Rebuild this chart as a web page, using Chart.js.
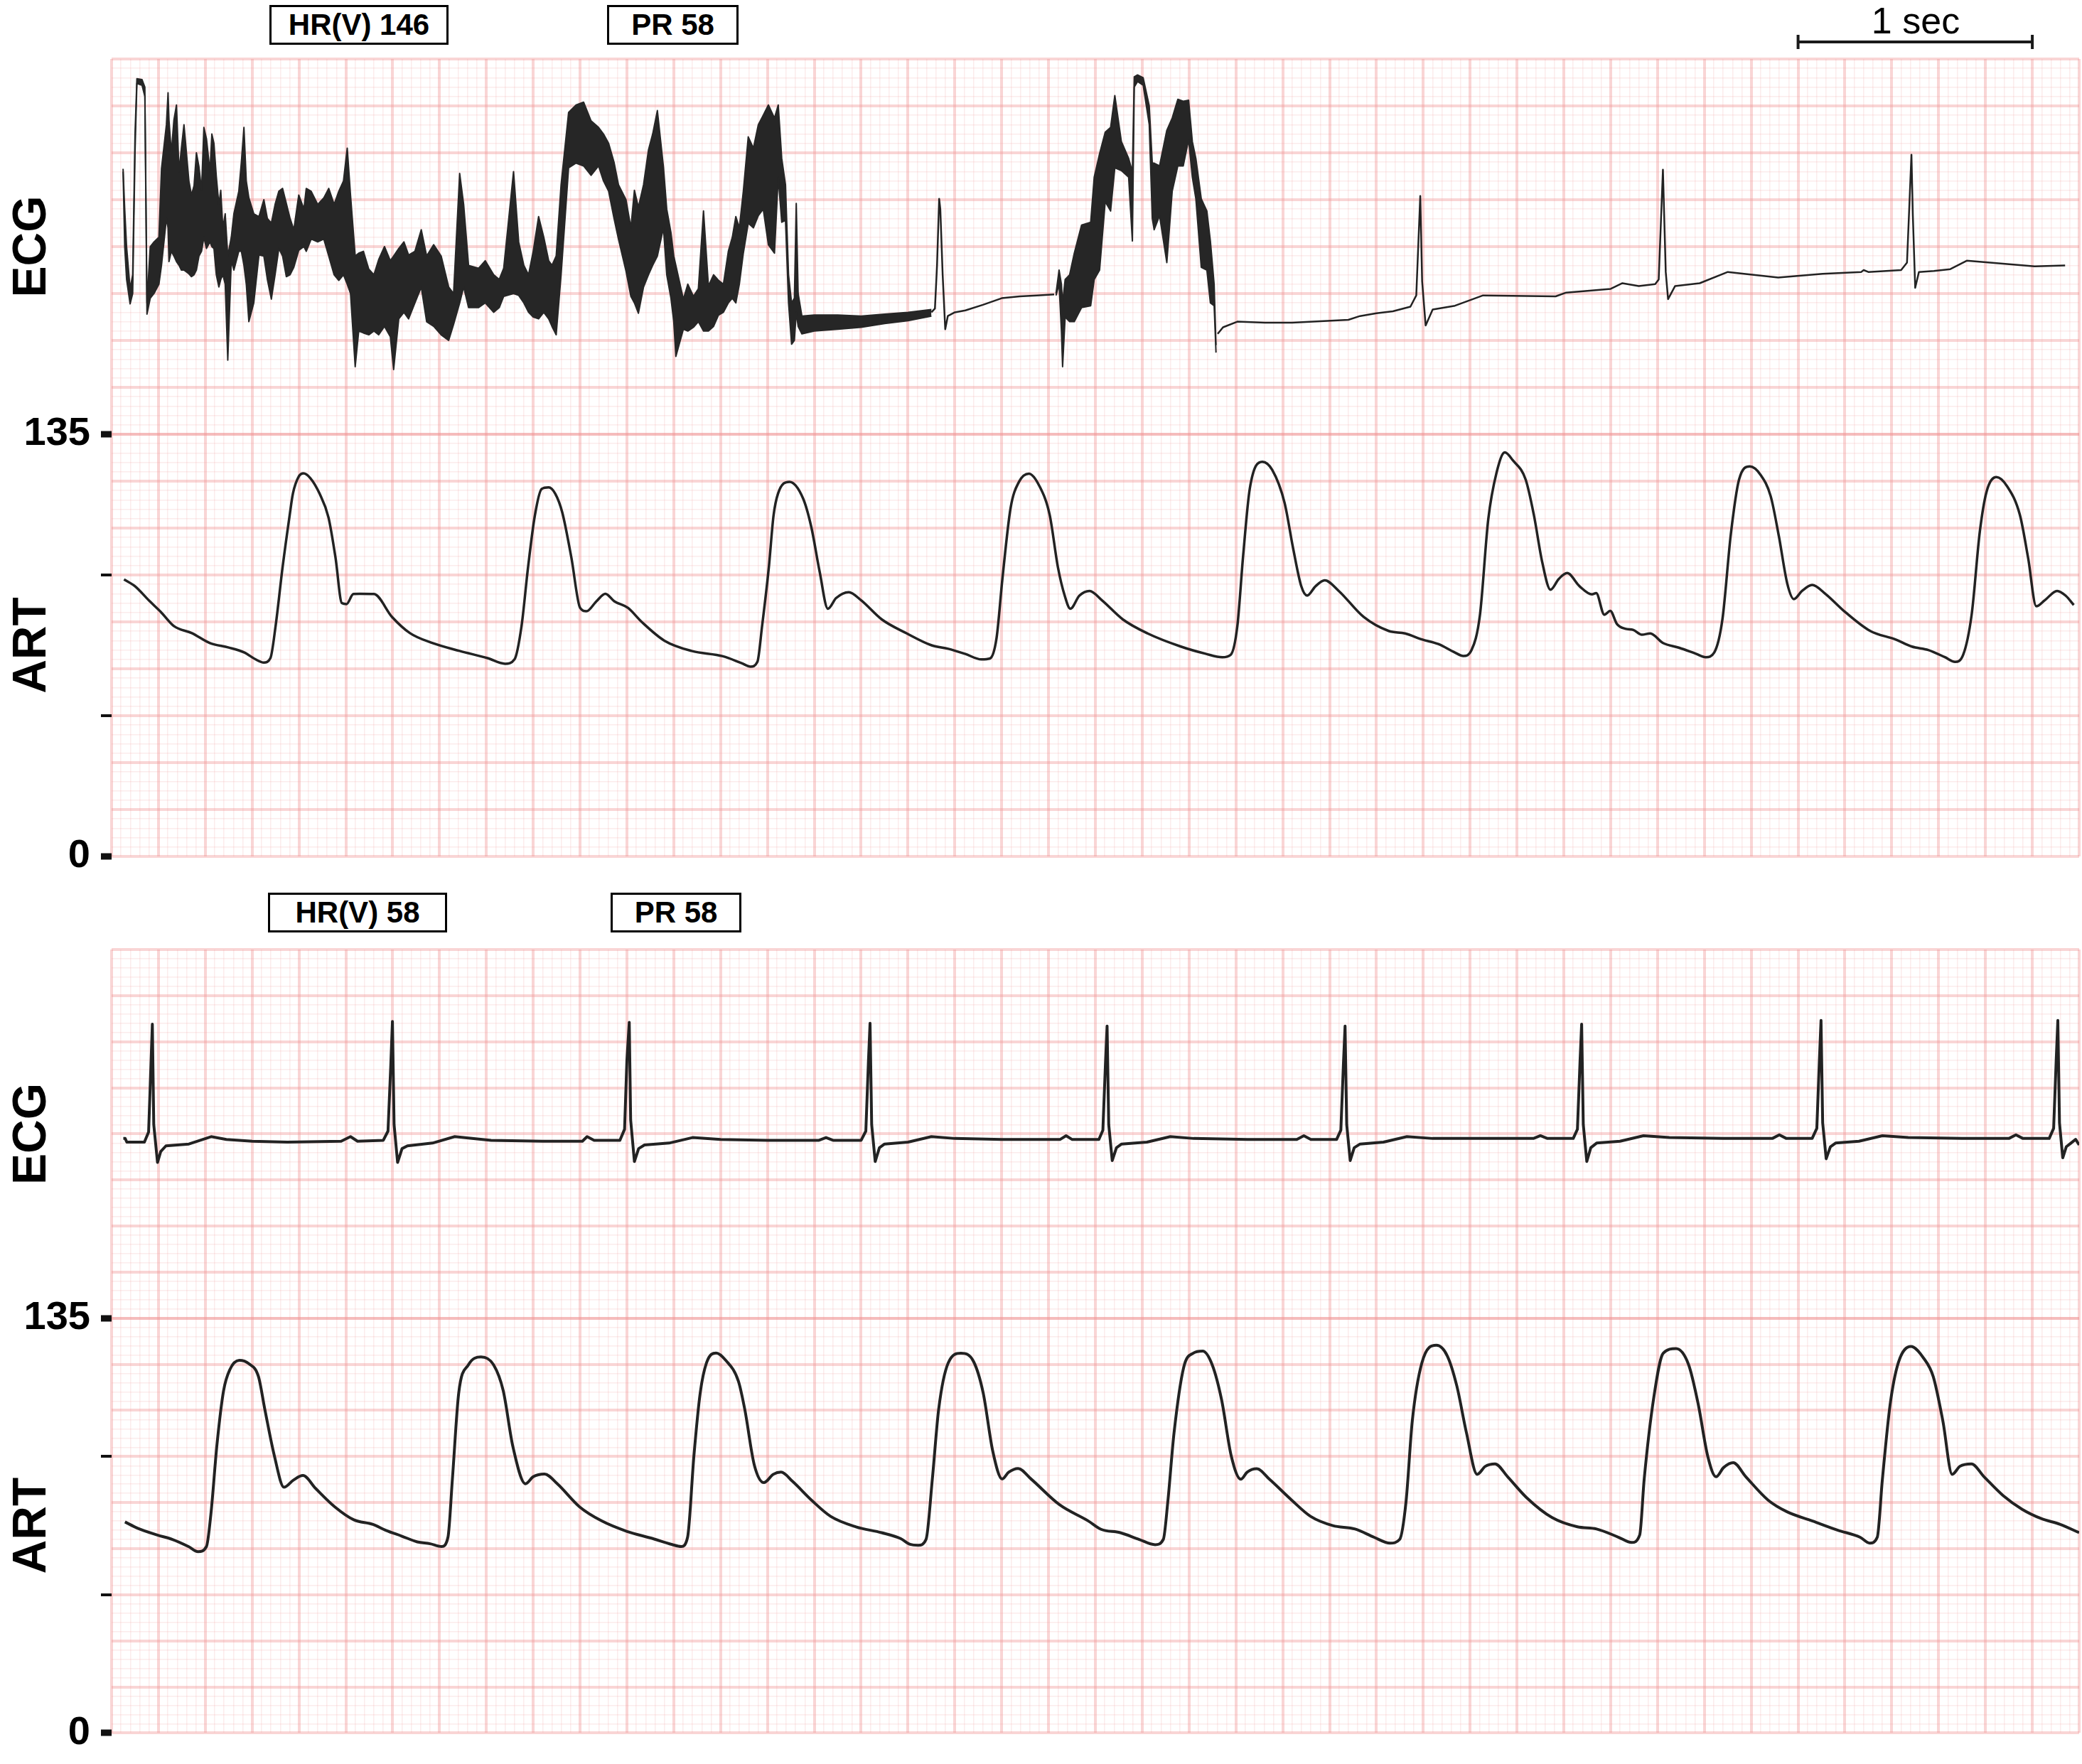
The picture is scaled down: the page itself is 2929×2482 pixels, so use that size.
<!DOCTYPE html>
<html>
<head>
<meta charset="utf-8">
<title>ECG / ART</title>
<script src="https://cdn.jsdelivr.net/npm/chart.js@4.4.1/dist/chart.umd.min.js"></script>
<style>
  html, body { margin: 0; padding: 0; background: #fff; overflow: hidden; }
  #pagina { position: relative; width: 2929px; height: 2482px; }
  canvas { position: absolute; left: 0; }
  .caixa {
    position: absolute; box-sizing: border-box; border: 3px solid #000; background: #fff;
    display: flex; align-items: center; justify-content: center;
    font-family: 'Liberation Sans', Arial, Helvetica, sans-serif;
    font-weight: bold; font-size: 42px; line-height: 1; color: #000;
  }
  #escala {
    position: absolute; left: 2595px; top: 3px; width: 200px; text-align: center;
    font-family: 'Liberation Sans', Arial, sans-serif; font-size: 52px; line-height: 1; color: #000;
  }
</style>
</head>
<body>
<div id="pagina">
  <canvas id="painel1" width="2929" height="1250" style="top:0"></canvas>
  <canvas id="painel2" width="2929" height="1232" style="top:1250px"></canvas>
  <div class="caixa" style="left:379px;top:7px;width:252px;height:56px">HR(V) 146</div>
  <div class="caixa" style="left:854px;top:7px;width:185px;height:56px">PR 58</div>
  <div class="caixa" style="left:377px;top:1256px;width:252px;height:56px">HR(V) 58</div>
  <div class="caixa" style="left:859px;top:1256px;width:184px;height:56px">PR 58</div>
  <div id="escala">1 sec</div>
</div>
<script>
// === Dados: tempo em s, ECG em mV, ART em mmHg ===

// Painel 1 - ECG com artefato (faixa entre envelope superior e inferior)
const ruido1T = [0.049,0.056,0.064,0.079,0.090,0.100,0.108,0.130,0.142,0.151,
  0.165,0.181,0.202,0.213,0.234,0.241,0.245,0.255,0.266,0.277,
  0.288,0.298,0.309,0.330,0.341,0.352,0.362,0.373,0.384,0.394,
  0.405,0.420,0.428,0.437,0.447,0.458,0.466,0.475,0.485,0.496,
  0.511,0.522,0.543,0.554,0.565,0.575,0.586,0.607,0.629,0.650,
  0.665,0.682,0.698,0.714,0.730,0.746,0.762,0.778,0.799,0.821,
  0.831,0.852,0.880,0.906,0.927,0.950,0.970,0.990,1.006,1.020,
  1.040,1.055,1.075,1.098,1.120,1.140,1.165,1.190,1.204,1.226,
  1.248,1.268,1.295,1.322,1.345,1.375,1.407,1.439,1.460,1.486,
  1.503,1.524,1.567,1.595,1.631,1.655,1.674,1.716,1.738,1.760,
  1.780,1.800,1.823,1.845,1.866,1.880,1.898,1.919,1.951,1.983,
  2.015,2.047,2.079,2.100,2.122,2.145,2.164,2.196,2.217,2.232,
  2.249,2.271,2.292,2.310,2.330,2.356,2.370,2.388,2.400,2.409,
  2.441,2.460,2.484,2.505,2.527,2.548,2.570,2.591,2.612,2.633,
  2.650,2.665,2.680,2.697,2.718,2.740,2.761,2.782,2.804,2.830,
  2.846,2.861,2.877,2.890,2.903,2.915,2.923,2.931,2.947,3.000,
  3.100,3.200,3.300,3.400,3.500];
const ruido1Alto = [0.83,0.40,0.00,-0.45,-0.30,1.20,1.79,1.78,1.70,-0.60,
  0.00,0.05,0.10,0.83,1.30,1.64,1.35,1.00,1.35,1.51,
  0.80,1.05,1.30,0.70,0.55,0.65,1.00,0.85,0.60,1.27,
  1.15,0.80,1.20,1.10,0.75,0.45,0.60,0.20,0.35,-0.10,
  0.10,0.35,0.59,0.90,1.27,0.70,0.52,0.35,0.32,0.50,
  0.30,0.25,0.45,0.59,0.62,0.46,0.30,0.18,0.55,0.40,
  0.62,0.59,0.45,0.52,0.62,0.45,0.59,0.70,1.05,0.55,
  -0.10,-0.07,-0.05,-0.24,-0.30,-0.14,0.00,-0.15,-0.10,-0.02,
  0.05,-0.09,-0.05,0.18,-0.10,0.02,-0.10,-0.43,-0.50,0.78,
  0.45,-0.20,-0.23,-0.15,-0.30,-0.35,-0.23,0.80,0.05,-0.20,
  -0.30,-0.05,0.32,0.10,-0.15,-0.20,-0.10,0.66,1.43,1.51,
  1.54,1.34,1.27,1.20,1.10,0.90,0.66,0.50,0.20,0.60,
  0.42,0.66,1.03,1.20,1.45,0.85,0.40,0.15,-0.10,-0.20,
  -0.56,-0.40,-0.53,-0.45,0.38,-0.42,-0.30,-0.36,-0.40,-0.05,
  0.10,0.32,0.20,0.59,1.17,1.05,1.30,1.40,1.51,1.37,
  1.51,0.94,0.66,-0.30,-0.60,-0.55,0.46,-0.50,-0.74,-0.73,
  -0.73,-0.74,-0.72,-0.70,-0.67];
const ruido1Baixo = [0.80,0.00,-0.35,-0.61,-0.50,1.00,1.74,1.72,1.60,-0.72,
  -0.55,-0.50,-0.40,-0.20,0.30,0.20,-0.16,-0.05,-0.10,-0.16,
  -0.20,-0.25,-0.25,-0.29,-0.32,-0.30,-0.25,-0.10,-0.05,0.10,
  -0.02,0.05,0.00,-0.02,-0.30,-0.43,-0.35,-0.30,-0.40,-1.21,
  -0.15,-0.25,-0.05,-0.05,-0.20,-0.40,-0.80,-0.60,-0.09,-0.10,
  -0.35,-0.56,-0.30,-0.02,-0.10,-0.32,-0.30,-0.22,-0.04,0.00,
  -0.05,0.08,0.05,0.08,-0.10,-0.30,-0.36,-0.30,-0.40,-0.50,
  -1.28,-0.90,-0.92,-0.94,-0.90,-0.94,-0.85,-0.96,-1.31,-0.77,
  -0.70,-0.77,-0.60,-0.43,-0.80,-0.85,-0.94,-1.00,-0.83,-0.60,
  -0.43,-0.65,-0.65,-0.60,-0.70,-0.65,-0.53,-0.50,-0.52,-0.60,
  -0.70,-0.75,-0.77,-0.70,-0.77,-0.85,-0.94,-0.30,0.84,0.89,
  0.86,0.76,0.86,0.70,0.59,0.30,0.08,-0.26,-0.53,-0.60,
  -0.71,-0.43,-0.30,-0.20,-0.10,0.20,-0.30,-0.55,-0.80,-1.17,
  -0.88,-0.90,-0.86,-0.80,-0.90,-0.90,-0.85,-0.73,-0.70,-0.60,
  -0.55,-0.60,-0.40,-0.07,0.25,0.20,0.33,0.40,0.02,-0.07,
  0.74,0.26,0.28,-0.60,-1.04,-1.00,-0.70,-0.85,-0.93,-0.90,
  -0.88,-0.86,-0.82,-0.79,-0.74];

const ruido2T = [4.032,4.045,4.055,4.060,4.071,4.090,4.110,4.141,4.180,4.195,
  4.218,4.242,4.265,4.283,4.311,4.342,4.358,4.366,4.380,4.404,
  4.430,4.443,4.451,4.474,4.505,4.528,4.552,4.575,4.598,4.614,
  4.629,4.652,4.676,4.691,4.707,4.715];
const ruido2Alto = [-0.50,-0.25,-0.40,-0.60,-0.35,-0.30,-0.07,0.23,0.26,0.74,
  0.99,1.22,1.27,1.61,1.12,0.94,0.80,1.81,1.83,1.80,
  1.50,0.89,0.89,0.86,1.24,1.37,1.57,1.55,1.56,1.12,
  0.94,0.51,0.38,0.06,-0.40,-1.05];
const ruido2Baixo = [-0.52,-0.40,-0.90,-1.28,-0.75,-0.80,-0.80,-0.65,-0.63,-0.35,
  -0.25,0.48,0.38,0.84,0.81,0.74,0.06,1.70,1.76,1.72,
  1.30,0.30,0.18,0.33,-0.17,0.59,0.86,0.86,1.14,0.74,
  0.51,-0.22,-0.25,-0.60,-0.63,-1.13];

// Painel 1 - ECG limpo (null = interrupção)
const ecg1T = [3.500,3.515,3.524,3.533,3.538,3.548,3.559,3.570,3.600,3.645,
  3.720,3.800,3.877,3.950,4.024,4.300,
  4.722,4.745,4.806,4.924,5.040,5.280,5.330,5.400,5.470,5.545,
  5.570,5.587,5.595,5.610,5.640,5.735,5.855,6.165,6.210,6.400,
  6.450,6.520,6.590,6.605,6.623,6.635,6.645,6.675,6.780,6.900,
  7.115,7.305,7.470,7.480,7.500,7.640,7.665,7.684,7.690,7.700,
  7.716,7.780,7.850,7.920,8.020,8.210,8.340];
const ecg1V = [-0.70,-0.66,-0.20,0.51,0.40,-0.30,-0.88,-0.74,-0.70,-0.68,
  -0.62,-0.55,-0.53,-0.52,-0.51,null,
  -0.93,-0.86,-0.80,-0.81,-0.81,-0.78,-0.74,-0.71,-0.69,-0.64,
  -0.52,0.54,-0.37,-0.84,-0.67,-0.63,-0.52,-0.53,-0.49,-0.45,
  -0.39,-0.42,-0.40,-0.35,0.82,-0.27,-0.56,-0.42,-0.39,-0.27,
  -0.33,-0.29,-0.27,-0.25,-0.27,-0.25,-0.17,0.98,0.33,-0.44,
  -0.27,-0.26,-0.24,-0.15,-0.17,-0.21,-0.20];

// Painel 1 - ART
const art1T = [0.053,0.10,0.16,0.21,0.267,0.343,0.42,0.50,0.567,0.615,
  0.65,0.678,0.70,0.73,0.76,0.774,0.80,0.819,0.848,0.888,
  0.926,0.956,0.983,1.003,1.032,1.06,1.12,1.197,1.274,1.371,
  1.486,1.605,1.68,1.72,1.75,1.778,1.807,1.836,1.866,1.894,
  1.924,1.963,2.0,2.027,2.07,2.108,2.146,2.204,2.263,2.36,
  2.476,2.61,2.69,2.728,2.757,2.777,2.806,2.826,2.845,2.894,
  2.952,2.987,3.023,3.058,3.093,3.147,3.20,3.288,3.395,3.501,
  3.572,3.643,3.714,3.75,3.778,3.803,3.838,3.874,3.916,3.962,
  4.005,4.04,4.069,4.093,4.132,4.175,4.228,4.317,4.423,4.565,
  4.671,4.742,4.778,4.806,4.831,4.859,4.913,4.955,5.008,5.044,
  5.079,5.104,5.14,5.179,5.239,5.345,5.452,5.522,5.594,5.664,
  5.735,5.771,5.806,5.842,5.877,5.913,5.948,5.983,6.037,6.072,
  6.108,6.143,6.178,6.214,6.267,6.32,6.338,6.373,6.398,6.427,
  6.462,6.497,6.533,6.569,6.622,6.693,6.764,6.806,6.842,6.877,
  6.913,6.948,6.994,7.04,7.083,7.118,7.154,7.182,7.217,7.26,
  7.313,7.402,7.508,7.615,7.686,7.756,7.827,7.87,7.905,7.941,
  7.976,8.005,8.047,8.093,8.147,8.182,8.217,8.253,8.306,8.342,
  8.377];
const art1P = [88.6,86.4,81.8,78.2,73.6,71.4,68.2,66.8,65.2,63.0,
  62.0,63.4,73.6,92.5,109,116,121.6,122.5,121,116,
  108.4,95.5,81,80.7,83.9,84.0,83.9,76.6,71.4,68.2,
  65.7,63.4,61.6,63.0,73.6,92.5,109,117.5,118,116,
  110,95.5,79.5,78.4,81.6,84.0,81.6,79.5,75.0,69.0,
  65.7,64.0,61.8,60.7,62.2,73.6,92.5,109,116,119.8,
  114.5,105.4,91,79.2,82.6,84.5,81.9,75.8,71.3,67.5,
  66.4,64.8,63.0,63.3,69.8,88.7,111.4,119.8,122.4,118.3,
  109.2,92.5,83.4,79.2,83.4,84.9,81.9,75.8,71.3,67.1,
  64.8,63.7,64.5,73.6,96.3,117.5,126.2,123.6,113,98.6,
  86.4,83.4,86.4,88.3,84.9,76.6,72.1,71.3,69.4,67.9,
  65.2,64.1,66,77.3,107.6,122.8,129.2,126.6,120.5,109.2,
  94,85.3,88.7,90.6,86.4,83.8,84.2,77.3,78.5,74.3,
  72.8,72.4,70.9,71.3,68.3,66.7,64.8,63.7,65.2,75.8,
  103.1,120.5,124.7,122,115.2,102.4,87.2,82.3,84.9,86.8,
  84.2,78.1,72.1,69.4,67.1,66,63.7,62.2,64.5,77.3,
  103.9,116.7,121.3,118.3,109.2,95.5,80,81.9,84.9,83.4,
  80.4];

// Painel 2 - ECG
const ecg2T = [0.050,0.058,0.065,0.140,
  0.158,0.168,0.174,0.180,0.196,0.210,0.232,0.330,0.425,0.490,0.600,0.750,0.980,1.020,1.050,1.160,
  1.180,1.192,1.199,1.206,1.221,1.240,1.263,1.370,1.465,1.620,1.840,2.010,2.030,2.060,2.170,
  2.190,2.200,2.210,2.216,2.232,2.250,2.275,2.380,2.480,2.600,2.800,3.020,3.050,3.080,3.200,
  3.220,3.231,3.238,3.245,3.260,3.278,3.300,3.400,3.500,3.600,3.800,4.050,4.075,4.100,4.215,
  4.232,4.243,4.250,4.257,4.272,4.290,4.312,4.420,4.520,4.620,4.850,5.060,5.090,5.120,5.230,
  5.248,5.259,5.266,5.273,5.288,5.305,5.330,5.430,5.530,5.640,5.860,6.070,6.100,6.130,6.240,
  6.258,6.269,6.276,6.283,6.298,6.315,6.340,6.440,6.540,6.650,6.880,7.090,7.120,7.150,7.260,
  7.280,7.291,7.298,7.305,7.320,7.338,7.360,7.460,7.560,7.670,7.900,8.100,8.130,8.160,8.272,
  8.291,8.302,8.309,8.316,8.330,8.345,8.365,8.385,8.400,8.410];
const ecg2V = [-0.05,-0.05,-0.09,-0.09,
  0.02,0.75,1.19,0.10,-0.31,-0.19,-0.13,-0.11,-0.03,-0.06,-0.08,-0.09,-0.08,-0.03,-0.08,-0.07,
  0.03,0.75,1.22,0.10,-0.31,-0.16,-0.13,-0.10,-0.03,-0.07,-0.08,-0.08,-0.03,-0.07,-0.07,
  0.05,0.80,1.21,0.15,-0.30,-0.16,-0.12,-0.10,-0.04,-0.06,-0.07,-0.07,-0.04,-0.07,-0.07,
  0.03,0.78,1.20,0.10,-0.30,-0.15,-0.11,-0.09,-0.03,-0.05,-0.06,-0.06,-0.02,-0.06,-0.06,
  0.04,0.76,1.17,0.10,-0.29,-0.15,-0.11,-0.09,-0.03,-0.05,-0.06,-0.06,-0.02,-0.06,-0.06,
  0.04,0.76,1.17,0.10,-0.29,-0.15,-0.11,-0.09,-0.03,-0.05,-0.05,-0.05,-0.02,-0.05,-0.05,
  0.05,0.78,1.19,0.10,-0.30,-0.15,-0.10,-0.08,-0.02,-0.04,-0.05,-0.05,-0.01,-0.05,-0.05,
  0.06,0.80,1.23,0.12,-0.27,-0.14,-0.10,-0.08,-0.02,-0.04,-0.05,-0.05,-0.01,-0.05,-0.05,
  0.06,0.80,1.23,0.12,-0.26,-0.14,-0.10,-0.06,-0.12,-0.10];

// Painel 2 - ART
const art2T = [0.057,0.11,0.193,0.26,0.328,0.369,0.405,0.424,0.45,0.478,
  0.505,0.545,0.586,0.627,0.654,0.695,0.736,0.776,0.817,0.871,
  0.953,1.034,1.116,1.17,1.238,1.305,1.36,1.409,1.436,1.455,
  1.482,1.523,1.577,1.631,1.672,1.713,1.767,1.8,1.848,1.903,
  1.998,2.093,2.201,2.31,2.391,2.432,2.459,2.486,2.513,2.54,
  2.581,2.622,2.676,2.703,2.744,2.785,2.825,2.858,2.907,2.988,
  3.07,3.178,3.287,3.368,3.409,3.444,3.477,3.504,3.531,3.572,
  3.626,3.68,3.721,3.762,3.802,3.83,3.87,3.925,4.047,4.17,
  4.224,4.306,4.387,4.455,4.49,4.509,4.536,4.577,4.617,4.658,
  4.699,4.739,4.78,4.821,4.848,4.889,4.943,5.038,5.119,5.214,
  5.309,5.39,5.458,5.499,5.526,5.553,5.594,5.656,5.702,5.743,
  5.784,5.83,5.865,5.906,5.96,6.041,6.15,6.258,6.34,6.434,
  6.489,6.524,6.543,6.584,6.624,6.679,6.733,6.774,6.814,6.85,
  6.882,6.923,6.977,7.072,7.153,7.262,7.37,7.465,7.506,7.538,
  7.56,7.593,7.628,7.682,7.736,7.777,7.818,7.858,7.891,7.94,
  7.994,8.075,8.157,8.238,8.319,8.4];
const art2P = [68.7,66.7,64.5,63,60.7,59,60.7,71.3,94,111.4,
  118.3,121.3,120.2,116,105.4,90.2,80,82.3,83.8,79.6,
  73.6,69.4,67.9,66,64.1,62.2,61.6,60.7,63.7,82.7,
  110.7,119.8,122.4,119.8,111.4,93.3,81.1,83.4,84.3,81.1,
  73.6,69,65.6,63.3,61.4,60.7,63.7,90.2,110.7,120.5,
  123.7,121.3,114.5,105.4,87.2,81.5,84.2,84.9,81.9,75.8,
  70.5,67.1,65.2,63.3,61.4,61.1,63,82.7,105.4,120.5,
  123.6,120.9,110.7,91.7,82.7,84.9,86.1,82.7,74.3,69,
  66.3,65.2,63,61.3,63,75.1,97.8,119,123.6,124.3,
  119.8,108.4,90.2,82.6,84.9,86,82.6,75.8,70.5,67.5,
  66.4,63.7,61.8,63,75.1,101.6,120.5,126.2,122.8,113,
  97.8,84.2,86.8,87.6,83.4,76.6,70.1,67.1,66.4,63.7,
  62,64.5,82.6,109.2,123.6,125.1,119.8,106.9,90.2,83.4,
  86.4,88,83.4,75.8,72,69,66,63.7,61.8,63.7,
  82.6,106.9,120.5,125.8,122,116,101.6,84.2,86.8,87.6,
  83.4,77.3,72.8,69.8,67.9,65.2];

// Eixos e marcas
const tempoMax = 8.4;
const passoTempo = 0.04;   // 1 mm
const passoEcg = 0.1;      // 1 mm
const passoArt = 3;        // 1 mm
const marcasArt = [0, 45, 90, 135];
const rotulosArt = [0, 135];
const barraInicio = 7.2;
const barraSegundos = 1;

document.addEventListener("DOMContentLoaded", function () {
    const corMaior = 'rgba(240, 150, 150, 0.40)';
    const corMenor = 'rgba(240, 150, 150, 0.18)';
    const fonte = "'Liberation Sans', Arial, Helvetica, sans-serif";

    const ehMaior = (v, passo) => Math.round(v / passo) % 5 === 0;
    const pontos = (ts, vs) => ts.map((t, i) => ({ x: t, y: vs[i] }));
    const ehMarca = (v, lista) => lista.some(m => Math.abs(v - m) < 1e-6);

    function grade(passo) {
        return {
            color: c => ehMaior(c.tick.value, passo) ? corMaior : corMenor,
            lineWidth: c => ehMaior(c.tick.value, passo) ? 4 : 1.5,
            drawTicks: false
        };
    }

    // Barra de escala "1 sec" acima do primeiro painel
    const barraEscala = {
        id: 'barraEscala',
        afterDraw(chart) {
            const x = chart.scales.x;
            const x0 = x.getPixelForValue(barraInicio);
            const x1 = x.getPixelForValue(barraInicio + barraSegundos);
            const ctx = chart.ctx;
            ctx.save();
            ctx.strokeStyle = '#1a1a1a';
            ctx.lineWidth = 4;
            ctx.beginPath();
            ctx.moveTo(x0, 59); ctx.lineTo(x1, 59);
            ctx.moveTo(x0, 49); ctx.lineTo(x0, 69);
            ctx.moveTo(x1, 49); ctx.lineTo(x1, 69);
            ctx.stroke();
            ctx.restore();
        }
    };

    function linha(dados, extra) {
        return Object.assign({
            data: dados,
            yAxisID: 'ecg',
            borderColor: '#222',
            borderWidth: 2.5,
            pointRadius: 0,
            tension: 0,
            fill: false,
            spanGaps: false,
            borderJoinStyle: 'round'
        }, extra);
    }

    function criarPainel(canvasId, conjuntos, padding, plugins) {
        return new Chart(document.getElementById(canvasId), {
            type: 'line',
            data: { datasets: conjuntos },
            options: {
                responsive: false,
                animation: false,
                devicePixelRatio: 1,
                layout: { padding: padding, autoPadding: false },
                plugins: { legend: { display: false }, tooltip: { enabled: false } },
                scales: {
                    x: {
                        type: 'linear', min: 0, max: tempoMax,
                        ticks: { display: false, stepSize: passoTempo },
                        border: { display: false },
                        grid: grade(passoTempo),
                        afterFit: s => { s.height = 0; }
                    },
                    ecg: {
                        type: 'linear', position: 'left', stack: 'painel', stackWeight: 8, weight: 1,
                        min: -2, max: 2,
                        ticks: { display: false, stepSize: passoEcg },
                        border: { display: false },
                        grid: grade(passoEcg),
                        title: {
                            display: true, text: 'ECG', color: '#000',
                            font: { family: fonte, weight: 'bold', size: 66 },
                            padding: { top: 6, bottom: 0 }
                        },
                        afterFit: s => { s.width = 157; }
                    },
                    art: {
                        type: 'linear', position: 'left', stack: 'painel', stackWeight: 9, weight: 0,
                        min: 0, max: 135,
                        ticks: {
                            stepSize: passoArt, autoSkip: false, padding: 10, color: '#000',
                            font: { family: fonte, weight: 'bold', size: 56 },
                            callback: v => ehMarca(v, rotulosArt) ? String(Math.round(v)) : ''
                        },
                        border: { display: false },
                        grid: {
                            color: c => ehMaior(c.tick.value, passoArt) ? corMaior : corMenor,
                            lineWidth: c => ehMaior(c.tick.value, passoArt) ? 4 : 1.5,
                            drawTicks: true,
                            tickLength: 20,
                            tickBorderDash: [0, 5, 20],
                            tickColor: c => ehMarca(c.tick.value, marcasArt) ? '#111' : 'rgba(0,0,0,0)',
                            tickWidth: c => ehMarca(c.tick.value, rotulosArt) ? 9 : 4
                        },
                        title: {
                            display: true, text: 'ART', color: '#000',
                            font: { family: fonte, weight: 'bold', size: 66 },
                            padding: { top: 6, bottom: 0 }
                        },
                        afterFit: s => { s.width = 157; }
                    }
                }
            },
            plugins: plugins
        });
    }

    // Gráfico painel 1 - artefato + ECG + ART
    criarPainel('painel1', [
        linha(pontos(ruido1T, ruido1Alto), { borderWidth: 2, borderColor: '#262626' }),
        linha(pontos(ruido1T, ruido1Baixo), { borderWidth: 2, borderColor: '#262626', fill: '-1', backgroundColor: '#262626' }),
        linha(pontos(ruido2T, ruido2Alto), { borderWidth: 2, borderColor: '#262626' }),
        linha(pontos(ruido2T, ruido2Baixo), { borderWidth: 2, borderColor: '#262626', fill: '-1', backgroundColor: '#262626' }),
        linha(pontos(ecg1T, ecg1V), { borderWidth: 2.5 }),
        linha(pontos(art1T, art1P), { yAxisID: 'art', borderWidth: 3.5, cubicInterpolationMode: 'monotone' })
    ], { left: 0, right: 4, top: 83, bottom: 45 }, [barraEscala]);

    // Gráfico painel 2 - ECG + ART
    criarPainel('painel2', [
        linha(pontos(ecg2T, ecg2V), { borderWidth: 4 }),
        linha(pontos(art2T, art2P), { yAxisID: 'art', borderWidth: 4, cubicInterpolationMode: 'monotone' })
    ], { left: 0, right: 4, top: 86, bottom: 24 }, []);
});
</script>
</body>
</html>
